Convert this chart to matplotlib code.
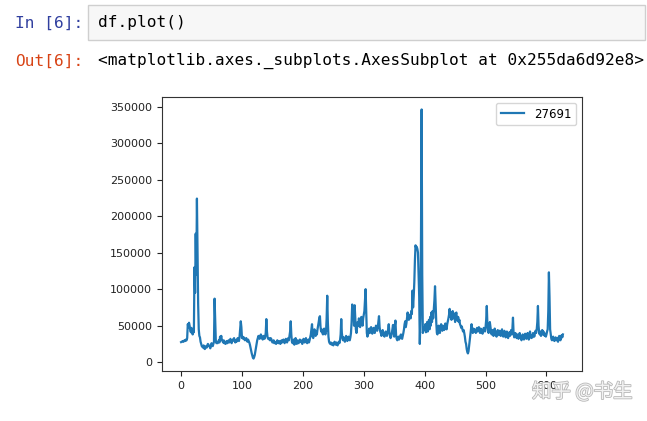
import matplotlib
matplotlib.use('Agg')
import matplotlib.pyplot as plt
import matplotlib.patches as mpatches
import matplotlib.patheffects as pe

# notebook cell text
in_prompt = 'In [6]:'
out_prompt = 'Out[6]:'
code_text = 'df.plot()'
out_text = '<matplotlib.axes._subplots.AxesSubplot at 0x255da6d92e8>'
series_name = '27691'
watermark = '知乎 @书生'

# series values (index 0..627)
values = [
    27500, 28000, 28500, 29000, 28000, 29500, 30000, 29000, 31000, 30000,
    33000, 52000, 48000, 54000, 50000, 44000, 41000, 47000, 43000, 38000, 45000, 41000,
    130000, 95000, 176000, 120000, 224000, 150000, 80000, 45000, 36000, 34000, 28000,
    25000, 22000, 21000, 20000, 23000, 19000, 18000, 21000, 22000, 20000, 23000,
    25000, 24000, 22000, 21000, 19000, 23000, 26000, 24000, 22000, 25000, 28000,
    87000, 60000, 30000, 26000,
    27000, 26000, 28000, 30000, 27000, 35000, 33000, 36000, 30000, 29000,
    27000, 30000, 26000, 28000, 25000, 27000, 29000, 26000, 28000, 30000,
    27000, 29000, 32000, 28000, 26000, 29000, 31000, 30000, 33000, 29000,
    27000, 30000, 28000, 31000, 33000, 30000, 29000, 35000, 45000,
    56000, 48000, 33000, 35000, 32000, 34000, 31000,
    30000, 32000, 33000, 30000, 28000, 31000, 29000, 27000,
    24000, 20000, 16000, 12000, 9000, 6000, 5000, 7000, 10000, 15000,
    20000, 25000, 30000, 33000, 36000, 34000,
    32000, 35000, 38000, 34000, 33000, 31000, 36000, 34000, 32000, 35000, 40000,
    59000, 42000, 34000,
    32000, 33000, 31000, 30000, 33000, 32000, 29000, 27000, 28000, 30000,
    26000, 28000, 27000, 25000, 27000, 30000, 28000, 26000, 29000, 27000,
    25000, 28000, 30000, 27000, 29000, 31000, 28000, 26000, 30000, 32000,
    29000, 27000, 31000, 33000, 30000, 36000, 42000,
    56000, 38000, 28000,
    26000, 29000, 31000, 24000, 27000, 33000, 28000, 25000, 30000, 27000,
    26000, 29000, 31000, 28000, 30000, 27000, 25000, 28000, 32000, 29000,
    27000, 30000, 33000, 28000, 26000, 29000, 31000, 27000, 30000, 34000,
    38000, 45000,
    52000, 35000, 33000, 38000, 45000, 40000, 36000, 42000, 38000, 45000, 50000, 55000,
    61000, 63000, 48000, 42000, 45000, 40000, 38000, 44000, 46000, 40000, 38000, 42000, 60000,
    91000, 55000, 35000, 28000, 26000, 25000, 27000, 24000, 26000, 25000,
    23000, 26000, 28000, 25000, 24000, 27000, 25000, 23000, 26000, 28000,
    26000, 30000, 38000,
    59000, 40000, 33000, 30000, 34000, 32000, 28000, 33000, 36000, 31000,
    29000, 33000, 35000, 31000, 30000, 34000, 40000, 55000,
    79000, 58000, 75000, 50000, 78000, 60000, 45000, 40000, 48000, 55000,
    50000, 60000, 52000, 48000, 58000, 62000, 55000, 50000, 60000, 65000,
    70000, 85000,
    100000, 70000, 40000, 35000, 38000, 42000, 46000, 40000, 44000, 48000,
    42000, 39000, 43000, 47000, 44000, 40000, 45000, 50000, 46000, 43000,
    48000, 55000,
    63000, 48000, 42000, 40000, 36000, 38000, 44000, 40000, 37000, 35000,
    39000, 42000, 38000, 36000, 40000, 45000, 52000, 41000, 36000, 33000,
    35000, 40000, 45000, 51000, 41000, 35000, 50000,
    57000, 38000, 32000, 30000, 33000, 35000, 31000, 34000, 36000, 38000,
    33000, 32000, 36000, 40000, 45000, 52000, 56000, 48000, 53000, 60000,
    68000, 62000, 58000, 65000, 63000, 60000, 70000, 66000, 98000, 75000,
    90000, 110000, 140000,
    160000, 156000, 158000, 155000, 150000, 120000, 90000, 25000, 60000, 180000,
    346000, 120000, 40000, 45000, 48000,
    45000, 52000, 41000, 47000, 55000, 42000, 48000, 58000, 45000, 62000,
    50000, 68000, 55000, 70000, 60000, 72000, 85000,
    104000, 80000, 55000, 40000, 38000, 45000, 50000, 42000, 40000, 48000,
    52000, 45000, 43000, 50000, 47000, 44000, 48000, 53000, 49000, 45000,
    52000, 56000, 60000, 65000,
    73000, 62000, 68000, 58000, 66000, 70000, 60000, 67000, 63000, 55000,
    65000, 68000, 60000, 57000, 62000, 55000, 58000, 52000, 50000, 47000,
    49000, 45000, 42000, 44000, 40000, 35000, 28000,
    25000, 18000, 14000, 12000, 15000, 22000, 30000, 38000, 45000, 52000,
    43000, 40000, 46000, 42000,
    45000, 43000, 40000, 44000, 47000, 42000, 45000, 48000, 43000, 40000,
    46000, 44000, 41000, 39000, 43000, 47000, 44000, 42000, 48000, 58000,
    77000, 52000, 42000,
    40000, 45000, 55000, 48000, 42000, 38000, 44000, 40000, 36000, 42000,
    46000, 40000, 38000, 35000, 41000, 44000, 39000, 37000, 43000, 40000,
    36000, 41000, 45000, 38000, 35000, 40000, 43000, 38000, 34000, 39000,
    42000, 37000, 33000, 38000, 41000, 36000, 40000, 44000, 38000, 45000,
    61000, 40000, 34000,
    36000, 40000, 37000, 33000, 38000, 35000, 32000, 37000, 40000, 36000,
    33000, 30000, 35000, 38000, 34000, 31000, 36000, 39000, 35000, 32000,
    37000, 40000, 35000, 31000, 38000, 42000, 36000, 33000, 37000, 34000,
    40000, 38000, 35000, 39000, 43000, 40000, 45000, 55000,
    77000, 50000, 40000,
    38000, 42000, 36000, 40000, 44000, 38000, 42000, 40000, 36000, 39000,
    35000, 38000, 42000, 45000, 70000,
    123000, 90000, 45000, 38000,
    32000, 30000, 33000, 35000, 31000, 29000, 32000, 34000, 30000, 33000,
    31000, 28000, 34000, 36000, 32000, 30000, 35000, 37000, 34000, 38000,
]

W, H = 647, 421
fig = plt.figure(figsize=(W / 100, H / 100), dpi=100)
fig.patch.set_facecolor('white')

mono = 'DejaVu Sans Mono'

# code cell box
box = mpatches.Rectangle((88 / W, 1 - 40 / H), (W - 90) / W, 35 / H,
                         transform=fig.transFigure, facecolor='#f7f7f7',
                         edgecolor='#cfcfcf', linewidth=1)
fig.patches.append(box)
fig.text(15 / W, 1 - 23 / H, in_prompt, color='#303F9F', family=mono,
         fontsize=11.6, va='center', ha='left')
fig.text(98 / W, 1 - 23 / H, code_text, color='black', family=mono,
         fontsize=11.6, va='center', ha='left')
fig.text(15 / W, 1 - 61 / H, out_prompt, color='#D84315', family=mono,
         fontsize=11.6, va='center', ha='left')
fig.text(98 / W, 1 - 61 / H, out_text, color='black', family=mono,
         fontsize=11.6, va='center', ha='left')

# the plot
ax = fig.add_axes([162 / W, (H - 371) / H, 420 / W, 274 / H])
ax.plot(range(len(values)), values, color='#1f77b4', linewidth=1.6,
        label=series_name)
ax.margins(x=0.05, y=0.05)
ax.set_xticks([0, 100, 200, 300, 400, 500, 600])
ax.set_yticks([0, 50000, 100000, 150000, 200000, 250000, 300000, 350000])
ax.tick_params(labelsize=8, colors='#222222', length=3.5)
for sp in ax.spines.values():
    sp.set_color('#333333')
    sp.set_linewidth(0.8)
ax.legend(loc='upper right', fontsize=8.5)

fig.text(532 / W, 1 - 392 / H, watermark, family=['Noto Sans CJK SC', 'DejaVu Sans'],
         fontsize=14, color='#f2f2f2', va='center', ha='left',
         path_effects=[pe.withStroke(linewidth=1.2, foreground='#b8b8b8')])

fig.savefig('out.png', dpi=100)
